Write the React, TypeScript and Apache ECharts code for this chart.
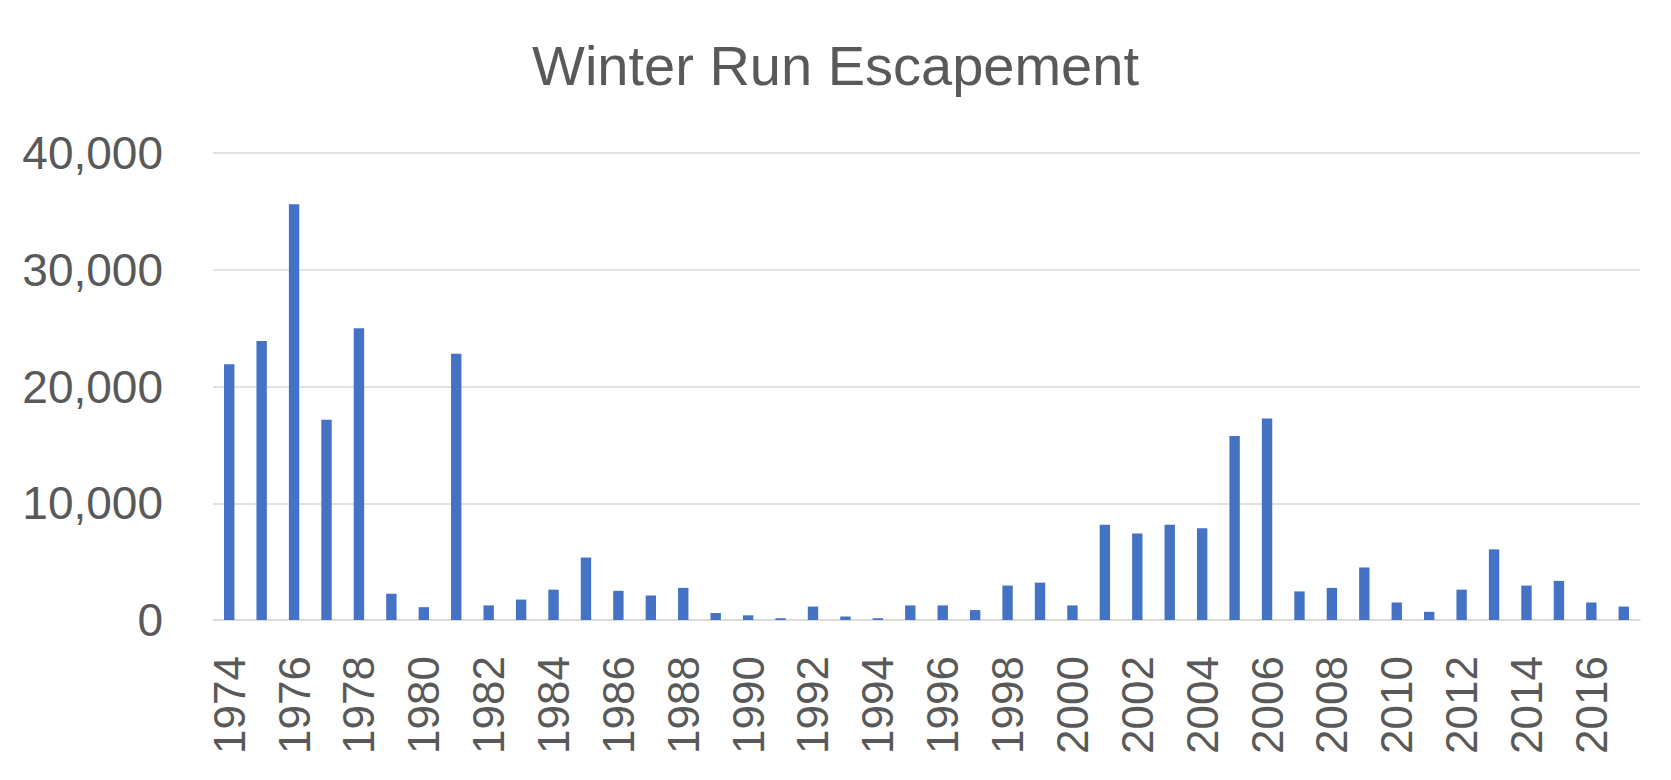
import React, { useEffect, useRef } from "react";
import * as echarts from "echarts";

const years = [
  "1974", "1975", "1976", "1977", "1978", "1979", "1980", "1981", "1982", "1983",
  "1984", "1985", "1986", "1987", "1988", "1989", "1990", "1991", "1992", "1993",
  "1994", "1995", "1996", "1997", "1998", "1999", "2000", "2001", "2002", "2003",
  "2004", "2005", "2006", "2007", "2008", "2009", "2010", "2011", "2012", "2013",
  "2014", "2015", "2016", "2017",
];

const escapement = [
  21900, 23900, 35600, 17150, 25000, 2250, 1100, 22800, 1250, 1750,
  2600, 5350, 2500, 2100, 2750, 600, 400, 150, 1150, 300,
  150, 1250, 1250, 850, 2950, 3200, 1250, 8150, 7400, 8150,
  7850, 15750, 17250, 2450, 2750, 4500, 1500, 700, 2600, 6050,
  2950, 3350, 1500, 1150,
];

const yTicks = { min: 0, max: 40000, interval: 10000 };

const textColor = "#595959";
const font = "'Liberation Sans', Arial, sans-serif";

const App = () => {
  const chartRef = useRef<HTMLDivElement>(null);

  useEffect(() => {
    document.body.style.margin = "0";
    // @ts-ignore
    const chart = echarts.init(chartRef.current, null, { renderer: "svg" });

    const options = {
      animation: false,
      backgroundColor: "#ffffff",
      title: {
        text: "Winter Run Escapement",
        left: "center",
        top: 32,
        textStyle: {
          color: textColor,
          fontSize: 56,
          fontWeight: "normal",
          fontFamily: font,
        },
      },
      grid: {
        left: 213,
        right: 31,
        top: 153,
        bottom: 160,
        containLabel: false,
      },
      xAxis: {
        type: "category",
        data: years,
        boundaryGap: true,
        axisLine: { lineStyle: { color: "#D9D9D9", width: 1.5 } },
        axisTick: { show: false },
        axisLabel: {
          interval: 1,
          rotate: 90,
          margin: 36,
          color: textColor,
          fontSize: 44,
          fontFamily: font,
        },
      },
      yAxis: {
        type: "value",
        min: yTicks.min,
        max: yTicks.max,
        interval: yTicks.interval,
        axisLine: { show: false },
        axisTick: { show: false },
        splitLine: { lineStyle: { color: "#D9D9D9", width: 1.5 } },
        axisLabel: {
          margin: 50,
          color: textColor,
          fontSize: 46,
          fontFamily: font,
          formatter: (v: number) => v.toLocaleString("en-US"),
        },
      },
      series: [
        {
          name: "Escapement",
          type: "bar",
          data: escapement,
          barWidth: "32%",
          itemStyle: { color: "#4472C4" },
        },
      ],
    };

    chart.setOption(options);

    return () => {
      chart.dispose();
    };
  }, []);

  return <div ref={chartRef} style={{ width: "1671px", height: "780px" }} />;
};

export default App;
